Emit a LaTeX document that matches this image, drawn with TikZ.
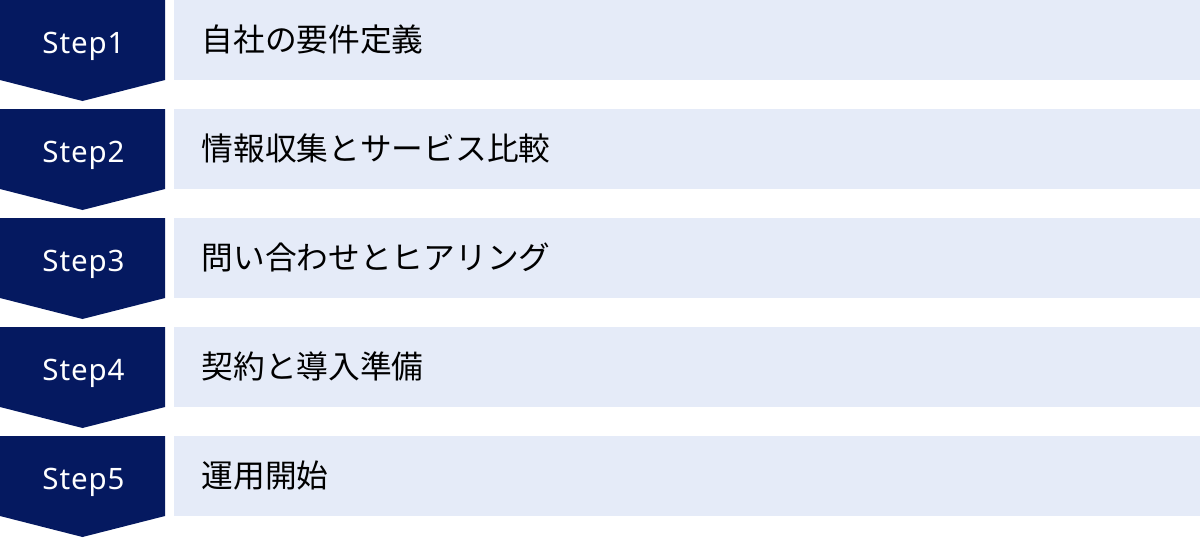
\documentclass[tikz,border=0pt]{standalone}
\usepackage{fontspec}
\newfontfamily\jpfont{Noto Sans CJK JP}
\newfontfamily\stepfont[LetterSpace=3]{Noto Sans}
\usetikzlibrary{positioning}

\definecolor{stepnavy}{RGB}{5,25,96}
\definecolor{barblue}{RGB}{229,235,248}

\tikzset{
  chevron/.style={fill=stepnavy},
  steplabel/.style={text=white, font=\stepfont\fontsize{29.5}{30}\selectfont, inner sep=0pt, anchor=base},
  bar/.style={fill=barblue, minimum width=1026pt, minimum height=80pt, inner sep=0pt, anchor=north west},
  bartext/.style={font=\jpfont\fontsize{31.7}{32}\selectfont, inner sep=0pt, anchor=base west}
}

\begin{document}
\begin{tikzpicture}[x=1pt, y=-1pt]
  \useasboundingbox (0,0) rectangle (1200,538);

  % one row per step
  \foreach \i/\txt in {1/自社の要件定義, 2/情報収集とサービス比較, 3/問い合わせとヒアリング, 4/契約と導入準備, 5/運用開始}{
    \pgfmathsetmacro{\rowy}{(\i-1)*109}
    % chevron
    \fill[chevron] (0,\rowy) -- ++(165,0) -- ++(0,80) -- ++(-82.5,21) -- ++(-82.5,-21) -- cycle;
    \node[steplabel] (s\i) at (83.5,\rowy+53.3) {Step\i};
    % bar
    \node[bar] (b\i) at (174,\rowy) {};
    \node[bartext] (t\i) at (201.5,\rowy+51) {\txt};
  }
\end{tikzpicture}
\end{document}
